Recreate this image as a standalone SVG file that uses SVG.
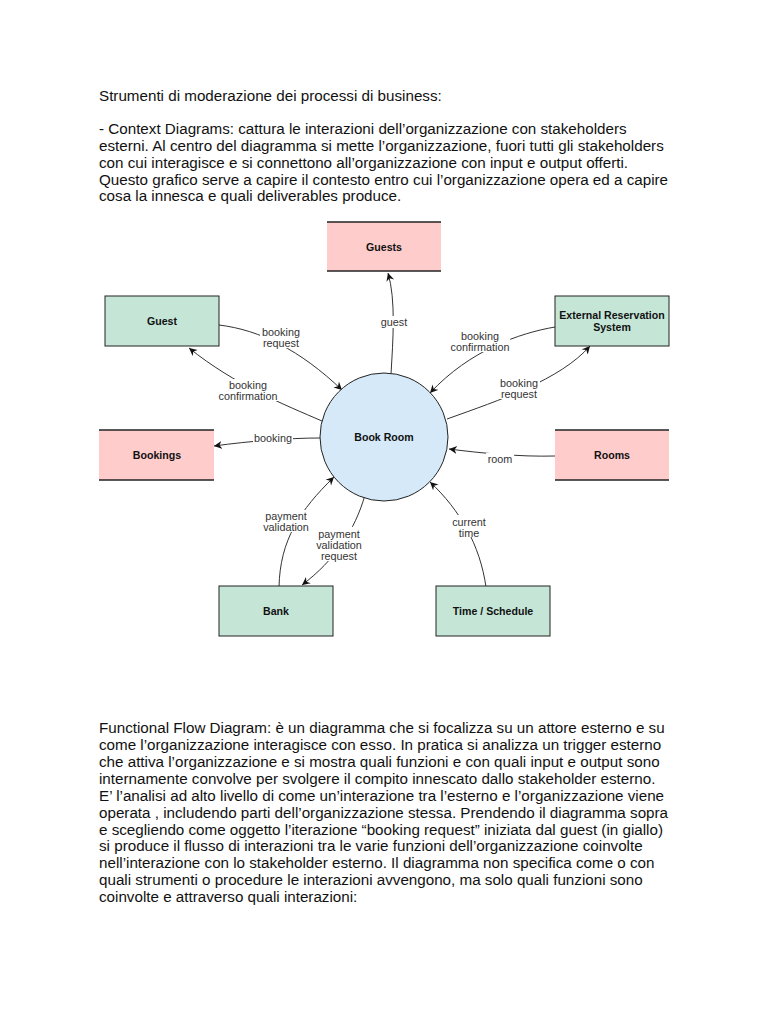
<svg xmlns="http://www.w3.org/2000/svg" width="768" height="1024" viewBox="0 0 768 1024">
<style>
.body{font-family:"Liberation Sans",Arial,sans-serif;font-size:15.2px;fill:#111}
.nt{font-family:"Liberation Sans",Arial,sans-serif;font-size:10.6px;font-weight:bold;fill:#111;text-anchor:middle}
.lb{font-family:"Liberation Sans",Arial,sans-serif;font-size:10.8px;fill:#333;text-anchor:middle}
.ext{fill:#c5e6d7;stroke:#222;stroke-width:1}
.store{fill:#ffcccc;stroke:none}
.sl{stroke:#222;stroke-width:1.5}
.proc{fill:#d5e9f8;stroke:#222;stroke-width:1}
.cn{fill:none;stroke:#333;stroke-width:1}
.lbg{fill:#fff}
</style>
<defs>
<marker id="ar" markerWidth="10" markerHeight="10" refX="8" refY="4" orient="auto" markerUnits="userSpaceOnUse">
<path d="M0,0 L8,4 L0,8 L2.5,4 z" fill="#111"/>
</marker>
</defs>
<rect width="768" height="1024" fill="#fff"/>

<g id="text-top">
<text class="body" x="99" y="101">Strumenti di moderazione dei processi di business:</text>
<text class="body" x="99" y="134">- Context Diagrams: cattura le interazioni dell’organizzazione con stakeholders</text>
<text class="body" x="99" y="151">esterni. Al centro del diagramma si mette l’organizzazione, fuori tutti gli stakeholders</text>
<text class="body" x="99" y="168">con cui interagisce e si connettono all’organizzazione con input e output offerti.</text>
<text class="body" x="99" y="185">Questo grafico serve a capire il contesto entro cui l’organizzazione opera ed a capire</text>
<text class="body" x="99" y="201">cosa la innesca e quali deliverables produce.</text>
</g>

<g id="connectors">
<path class="cn" d="M391,374 C393,340 396,300 388,273" marker-end="url(#ar)"/>
<path class="cn" d="M219,325 C260,330 300,350 342,390" marker-end="url(#ar)"/>
<path class="cn" d="M322,421 C285,405 235,385 189,348" marker-end="url(#ar)"/>
<path class="cn" d="M320,438 C290,438 250,441 214,446" marker-end="url(#ar)"/>
<path class="cn" d="M555,456 C520,457 480,453 449,449" marker-end="url(#ar)"/>
<path class="cn" d="M555,327 C520,333 470,350 430,393" marker-end="url(#ar)"/>
<path class="cn" d="M447,419 C500,400 560,380 590,346" marker-end="url(#ar)"/>
<path class="cn" d="M279,587 C280,540 300,510 334,477" marker-end="url(#ar)"/>
<path class="cn" d="M365,495 C355,530 335,560 302,585" marker-end="url(#ar)"/>
<path class="cn" d="M486,587 C480,545 460,510 430,482" marker-end="url(#ar)"/>

<rect class="lbg" x="380" y="316" width="28" height="12"/>
<text class="lb" x="394" y="326">guest</text>
<rect class="lbg" x="260" y="326" width="42" height="22"/>
<text class="lb" x="281" y="336">booking</text>
<text class="lb" x="281" y="347">request</text>
<rect class="lbg" x="218" y="379" width="60" height="22"/>
<text class="lb" x="248" y="389">booking</text>
<text class="lb" x="248" y="400">confirmation</text>
<rect class="lbg" x="253" y="432" width="40" height="12"/>
<text class="lb" x="273" y="442">booking</text>
<rect class="lbg" x="486" y="453" width="28" height="12"/>
<text class="lb" x="500" y="463">room</text>
<rect class="lbg" x="450" y="330" width="60" height="22"/>
<text class="lb" x="480" y="340">booking</text>
<text class="lb" x="480" y="351">confirmation</text>
<rect class="lbg" x="498" y="377" width="42" height="22"/>
<text class="lb" x="519" y="387">booking</text>
<text class="lb" x="519" y="398">request</text>
<rect class="lbg" x="262" y="510" width="48" height="22"/>
<text class="lb" x="286" y="520">payment</text>
<text class="lb" x="286" y="531">validation</text>
<rect class="lbg" x="315" y="527" width="48" height="34"/>
<text class="lb" x="339" y="538">payment</text>
<text class="lb" x="339" y="549">validation</text>
<text class="lb" x="339" y="560">request</text>
<rect class="lbg" x="450" y="515" width="38" height="22"/>
<text class="lb" x="469" y="526">current</text>
<text class="lb" x="469" y="537">time</text>
</g>

<g id="guests">
<rect class="store" x="327" y="222" width="114" height="49"/>
<line class="sl" x1="327" y1="222" x2="441" y2="222"/>
<line class="sl" x1="327" y1="271" x2="441" y2="271"/>
<text class="nt" x="384" y="251">Guests</text>
</g>
<g id="guest">
<rect class="ext" x="105" y="296" width="114" height="50"/>
<text class="nt" x="162" y="325">Guest</text>
</g>
<g id="external-reservation-system">
<rect class="ext" x="555" y="296" width="114" height="50"/>
<text class="nt" x="612" y="319">External Reservation</text>
<text class="nt" x="612" y="331">System</text>
</g>
<g id="bookings">
<rect class="store" x="99" y="430" width="115" height="50"/>
<line class="sl" x1="99" y1="430" x2="214" y2="430"/>
<line class="sl" x1="99" y1="480" x2="214" y2="480"/>
<text class="nt" x="157" y="459">Bookings</text>
</g>
<g id="rooms">
<rect class="store" x="555" y="430" width="114" height="50"/>
<line class="sl" x1="555" y1="430" x2="669" y2="430"/>
<line class="sl" x1="555" y1="480" x2="669" y2="480"/>
<text class="nt" x="612" y="459">Rooms</text>
</g>
<g id="book-room">
<circle class="proc" cx="384" cy="437" r="64"/>
<text class="nt" x="384" y="441">Book Room</text>
</g>
<g id="bank">
<rect class="ext" x="219" y="586" width="114" height="50"/>
<text class="nt" x="276" y="615">Bank</text>
</g>
<g id="time-schedule">
<rect class="ext" x="436" y="586" width="114" height="50"/>
<text class="nt" x="493" y="615">Time / Schedule</text>
</g>

<g id="text-bottom">
<text class="body" x="99" y="733">Functional Flow Diagram: è un diagramma che si focalizza su un attore esterno e su</text>
<text class="body" x="99" y="750">come l’organizzazione interagisce con esso. In pratica si analizza un trigger esterno</text>
<text class="body" x="99" y="767">che attiva l’organizzazione e si mostra quali funzioni e con quali input e output sono</text>
<text class="body" x="99" y="784">internamente convolve per svolgere il compito innescato dallo stakeholder esterno.</text>
<text class="body" x="99" y="801">E’ l’analisi ad alto livello di come un’interazione tra l’esterno e l’organizzazione viene</text>
<text class="body" x="99" y="818">operata , includendo parti dell’organizzazione stessa. Prendendo il diagramma sopra</text>
<text class="body" x="99" y="835">e scegliendo come oggetto l’iterazione “booking request” iniziata dal guest (in giallo)</text>
<text class="body" x="99" y="851">si produce il flusso di interazioni tra le varie funzioni dell’organizzazione coinvolte</text>
<text class="body" x="99" y="868">nell’interazione con lo stakeholder esterno. Il diagramma non specifica come o con</text>
<text class="body" x="99" y="885">quali strumenti o procedure le interazioni avvengono, ma solo quali funzioni sono</text>
<text class="body" x="99" y="902">coinvolte e attraverso quali interazioni:</text>
</g>
</svg>
